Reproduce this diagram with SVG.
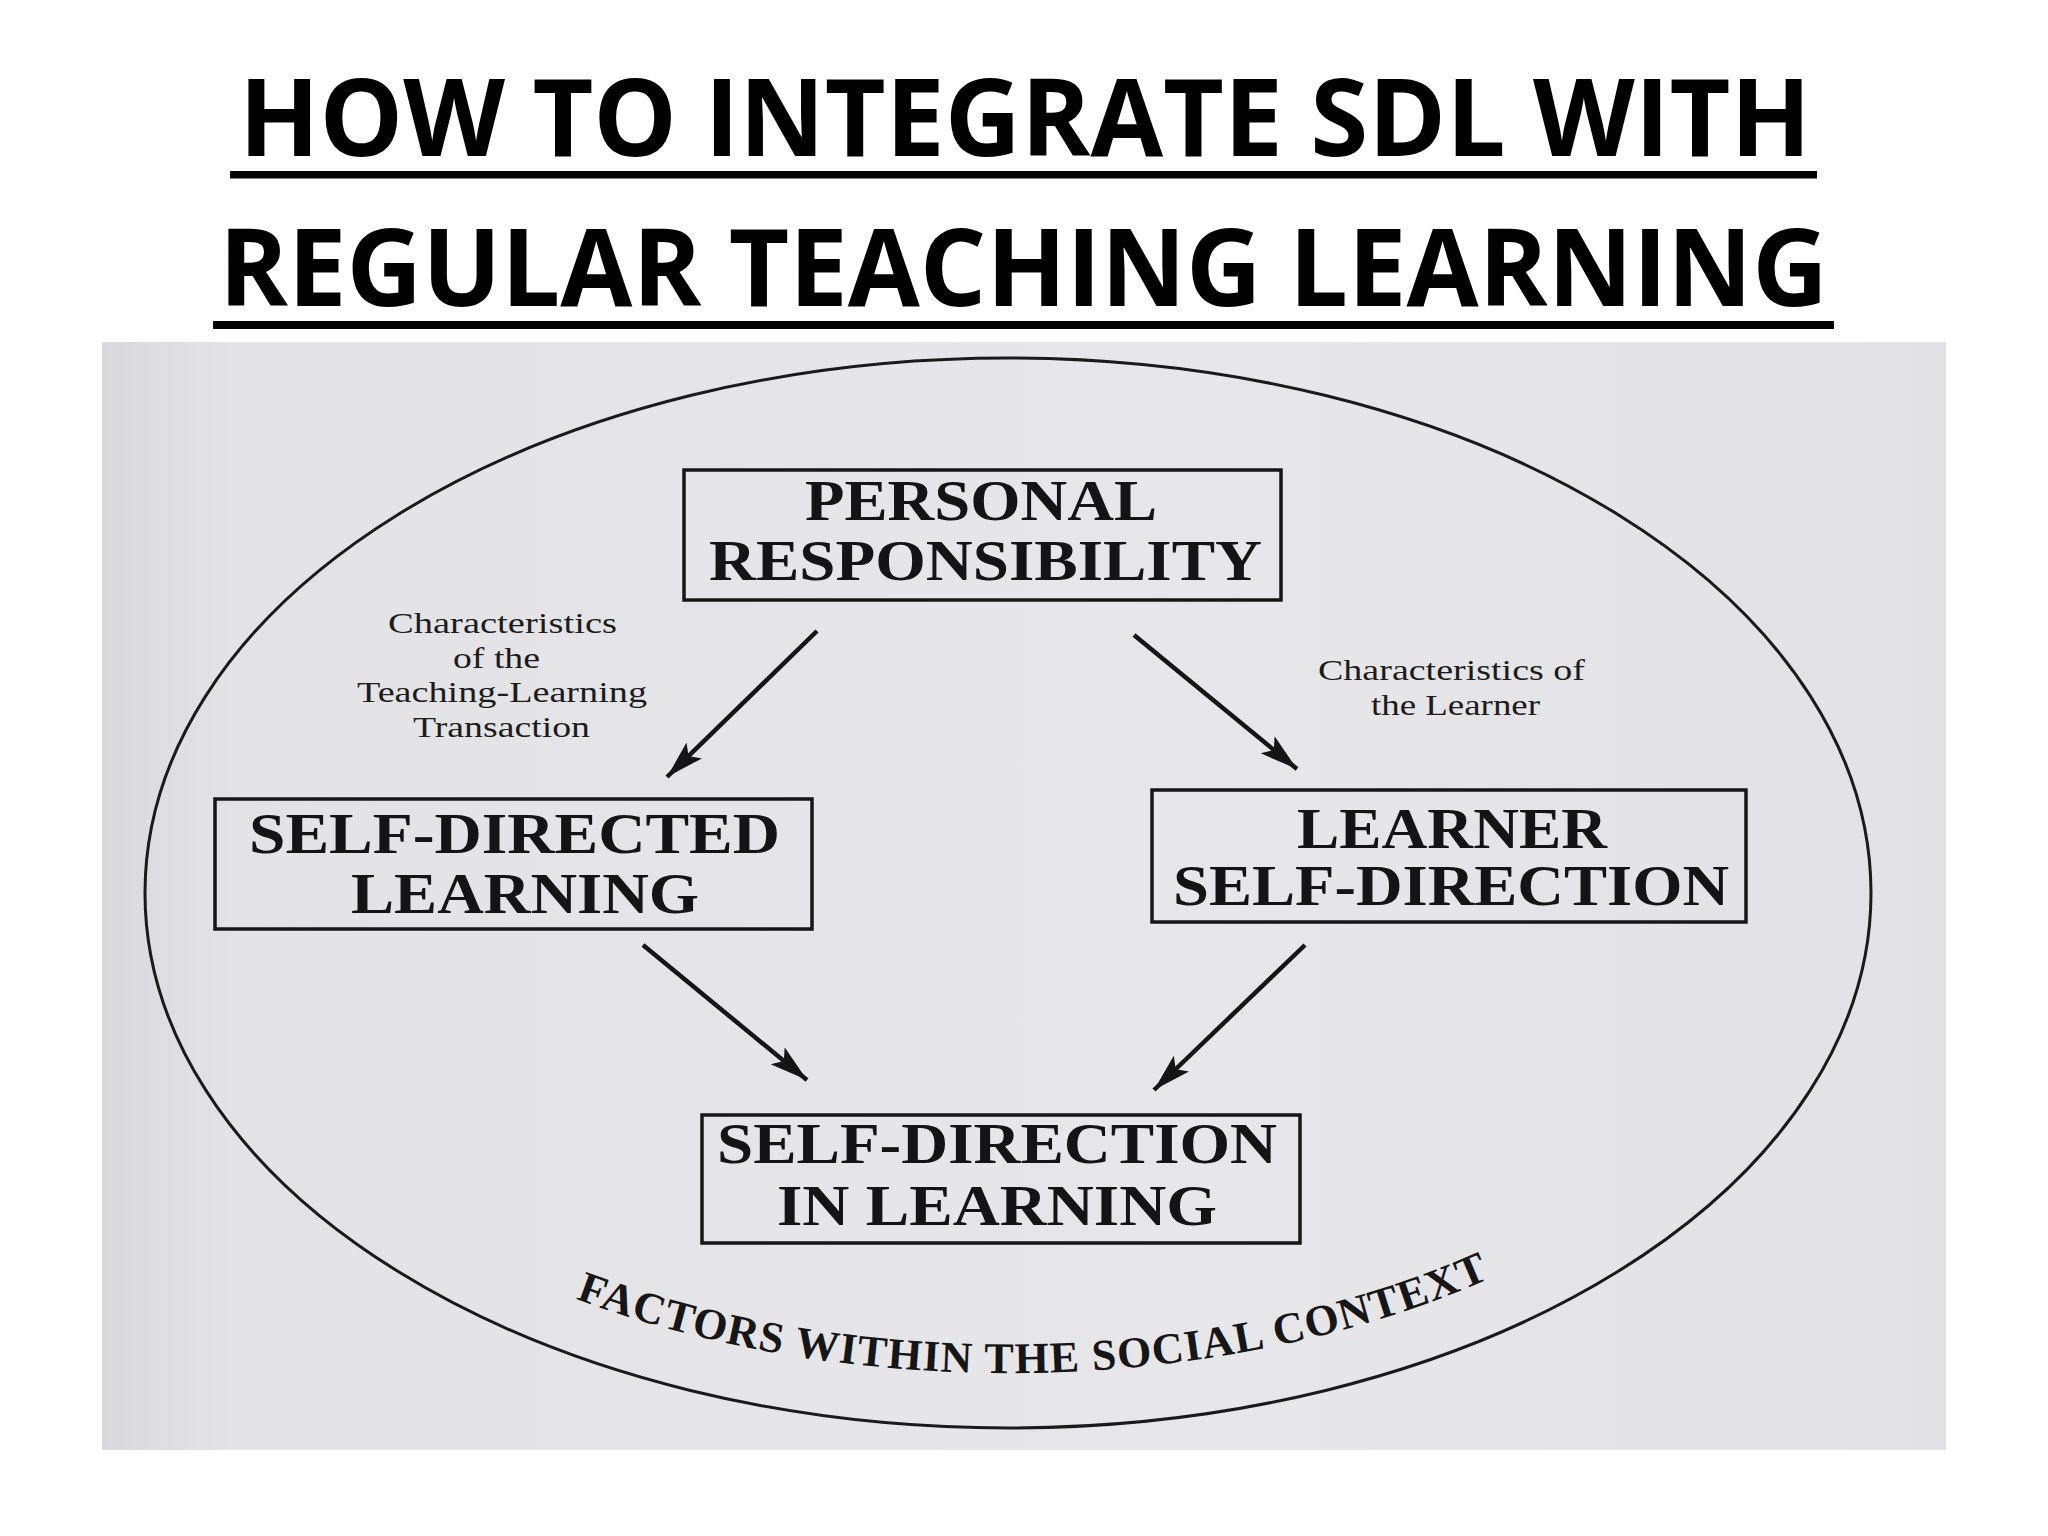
<svg xmlns="http://www.w3.org/2000/svg" width="2048" height="1536" viewBox="0 0 2048 1536">
<defs>
<linearGradient id="paper" x1="0" y1="0" x2="1" y2="0">
<stop offset="0" stop-color="#d9d9db"/>
<stop offset="0.07" stop-color="#e3e3e5"/>
<stop offset="0.6" stop-color="#e7e7e9"/>
<stop offset="1" stop-color="#e2e2e4"/>
</linearGradient>
<marker id="head" markerUnits="userSpaceOnUse" markerWidth="44" markerHeight="30" refX="38" refY="13" orient="auto">
<path d="M0,2 L38,13 L0,24 L8,13 Z" fill="#151515"/>
</marker>
<path id="ctx" d="M565.5,1294.7 A808,480 0 0 0 1499.9,1273.8"/>
</defs>
<style>
.title{font-family:"Open Sans","Liberation Sans",sans-serif;font-weight:700;font-size:108px;fill:#000}
.box{fill:none;stroke:#161616;stroke-width:3.5}
.bt{font-family:"Liberation Serif","Times New Roman",serif;font-weight:700;font-size:58px;fill:#141414}
.lbl{font-family:"Liberation Serif","Times New Roman",serif;font-size:29px;fill:#1c1c1c}
.arrow{stroke:#151515;stroke-width:4.5;fill:none;marker-end:url(#head)}
.ctxt{font-family:"Liberation Serif","Times New Roman",serif;font-weight:700;font-size:44px;fill:#161616}
</style>
<rect x="0" y="0" width="2048" height="1536" fill="#ffffff"/>
<g id="title">
<text class="title" x="239" y="156" textLength="1572" lengthAdjust="spacingAndGlyphs">HOW TO INTEGRATE SDL WITH</text>
<rect x="230" y="171" width="1587" height="7.5" fill="#000"/>
<text class="title" x="219" y="306" textLength="1609" lengthAdjust="spacingAndGlyphs">REGULAR TEACHING LEARNING</text>
<rect x="213" y="321" width="1621" height="8" fill="#000"/>
</g>
<rect id="paper-bg" x="102" y="342" width="1844" height="1108" fill="url(#paper)"/>
<g id="context">
<ellipse cx="1008" cy="893" rx="863" ry="535" fill="none" stroke="#1a1a1a" stroke-width="3"/>
<text class="ctxt"><textPath href="#ctx" startOffset="50%" text-anchor="middle" textLength="935">FACTORS WITHIN THE SOCIAL CONTEXT</textPath></text>
</g>
<g id="node-personal-responsibility">
<rect class="box" x="684" y="470" width="597" height="130"/>
<text class="bt" x="805" y="520" textLength="352" lengthAdjust="spacingAndGlyphs">PERSONAL</text>
<text class="bt" x="709" y="580" textLength="553" lengthAdjust="spacingAndGlyphs">RESPONSIBILITY</text>
</g>
<g id="node-self-directed-learning">
<rect class="box" x="215" y="799" width="597" height="130"/>
<text class="bt" x="249" y="853" textLength="531" lengthAdjust="spacingAndGlyphs">SELF-DIRECTED</text>
<text class="bt" x="351" y="913" textLength="348" lengthAdjust="spacingAndGlyphs">LEARNING</text>
</g>
<g id="node-learner-self-direction">
<rect class="box" x="1152" y="790" width="594" height="132"/>
<text class="bt" x="1297" y="848" textLength="310" lengthAdjust="spacingAndGlyphs">LEARNER</text>
<text class="bt" x="1173" y="905" textLength="556" lengthAdjust="spacingAndGlyphs">SELF-DIRECTION</text>
</g>
<g id="node-self-direction-in-learning">
<rect class="box" x="702" y="1115" width="598" height="128"/>
<text class="bt" x="717" y="1163" textLength="560" lengthAdjust="spacingAndGlyphs">SELF-DIRECTION</text>
<text class="bt" x="777" y="1225" textLength="440" lengthAdjust="spacingAndGlyphs">IN LEARNING</text>
</g>
<g id="label-teaching-learning">
<text class="lbl" x="388" y="633" textLength="229" lengthAdjust="spacingAndGlyphs">Characteristics</text>
<text class="lbl" x="453" y="668" textLength="87" lengthAdjust="spacingAndGlyphs">of the</text>
<text class="lbl" x="357" y="702" textLength="290" lengthAdjust="spacingAndGlyphs">Teaching-Learning</text>
<text class="lbl" x="413" y="737" textLength="177" lengthAdjust="spacingAndGlyphs">Transaction</text>
</g>
<g id="label-learner">
<text class="lbl" x="1318" y="680" textLength="267" lengthAdjust="spacingAndGlyphs">Characteristics of</text>
<text class="lbl" x="1371" y="715" textLength="169" lengthAdjust="spacingAndGlyphs">the Learner</text>
</g>
<g id="connectors">
<line class="arrow" x1="817" y1="631" x2="667" y2="777"/>
<line class="arrow" x1="1134" y1="635" x2="1297" y2="769"/>
<line class="arrow" x1="643" y1="945" x2="807" y2="1080"/>
<line class="arrow" x1="1305" y1="945" x2="1154" y2="1090"/>
</g>
</svg>
